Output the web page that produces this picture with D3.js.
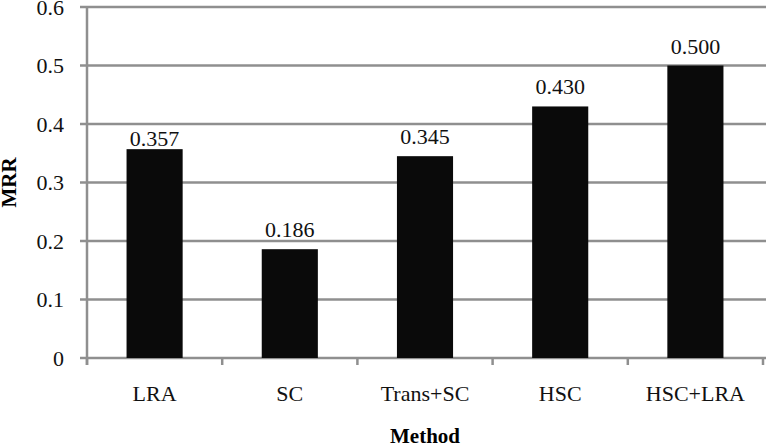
<!DOCTYPE html>
<html>
<head>
<meta charset="utf-8">
<script src="https://cdn.jsdelivr.net/npm/d3@7"></script>
<style>
body { margin: 0; background: #fff; }
</style>
</head>
<body>
<div id="main-vis"></div>
<script>
// chart data
var methods = ["LRA", "SC", "Trans+SC", "HSC", "HSC+LRA"];
var mrr = [0.357, 0.186, 0.345, 0.430, 0.500];
var yTicks = [0, 0.1, 0.2, 0.3, 0.4, 0.5, 0.6];

var font = "'Liberation Serif', 'Times New Roman', Times, serif";
var margin = { top: 7, right: 7, bottom: 88, left: 87 };
var width = 770 - margin.left - margin.right;
var height = 446 - margin.top - margin.bottom;
var grid = "#8f8f8f";

var x = d3.scaleBand().domain(methods).range([0, width]).paddingInner(0.585).paddingOuter(0.2925);
var xb = d3.scaleBand().domain(methods).range([0, width]); // category ticks
var y = d3.scaleLinear().domain([0, 0.6]).range([height, 0]);

var svg = d3.select("#main-vis").append("svg")
     .attr("width", 770)
     .attr("height", 446)
     .style("font-family", font)
     .append("g")
     .attr("transform", "translate(" + margin.left + "," + margin.top + ")");

// gridlines + left ticks
svg.selectAll(".grid")
     .data(yTicks)
     .enter().append("line")
     .attr("x1", -7)
     .attr("x2", width + 3)
     .attr("y1", function (d) { return y(d); })
     .attr("y2", function (d) { return y(d); })
     .attr("stroke", grid)
     .attr("stroke-width", 2.5);

// y tick labels
svg.selectAll(".ylab")
     .data(yTicks)
     .enter().append("text")
     .attr("x", -23)
     .attr("y", function (d) { return y(d); })
     .attr("dy", "0.35em")
     .attr("text-anchor", "end")
     .attr("font-family", font)
     .attr("font-size", 22)
     .attr("fill", "#111")
     .text(function (d) { return d; });

// y axis line
svg.append("line")
     .attr("x1", 0).attr("x2", 0)
     .attr("y1", y(0.6) - 1).attr("y2", height + 7)
     .attr("stroke", grid).attr("stroke-width", 2.5);

// x category ticks
var bounds = methods.map(function (m) { return xb(m); }).concat([width]);
svg.selectAll(".xtick")
     .data(bounds)
     .enter().append("line")
     .attr("x1", function (d) { return d; })
     .attr("x2", function (d) { return d; })
     .attr("y1", height)
     .attr("y2", height + 7)
     .attr("stroke", grid)
     .attr("stroke-width", 2.5);

// bars
svg.selectAll(".bar")
     .data(mrr)
     .enter().append("rect")
     .attr("x", function (d, i) { return x(methods[i]); })
     .attr("width", x.bandwidth())
     .attr("y", function (d) { return y(d); })
     .attr("height", function (d) { return height - y(d); })
     .attr("fill", "#0a0a0a");

// value labels, dropped closer to the bar if they would cross a gridline
svg.selectAll(".val")
     .data(mrr)
     .enter().append("text")
     .attr("x", function (d, i) { return x(methods[i]) + x.bandwidth() / 2; })
     .attr("y", function (d) {
          var base = y(d) - 12;
          var crosses = yTicks.some(function (t) { return y(t) < base && y(t) > base - 15; });
          return crosses ? y(d) - 3 : base;
     })
     .attr("text-anchor", "middle")
     .attr("font-family", font)
     .attr("font-size", 22)
     .attr("fill", "#111")
     .text(function (d) { return d.toFixed(3); });

// category labels
svg.selectAll(".cat")
     .data(methods)
     .enter().append("text")
     .attr("x", function (d) { return xb(d) + xb.bandwidth() / 2; })
     .attr("y", height + 43)
     .attr("text-anchor", "middle")
     .attr("font-family", font)
     .attr("font-size", 22)
     .attr("fill", "#111")
     .text(function (d) { return d; });

// axis titles
svg.append("text")
     .attr("x", width / 2)
     .attr("y", height + 85)
     .attr("text-anchor", "middle")
     .attr("font-family", font)
     .attr("font-size", 21)
     .attr("font-weight", "bold")
     .text("Method");

svg.append("text")
     .attr("transform", "translate(" + (16 - margin.left) + "," + (height / 2) + ") rotate(-90)")
     .attr("text-anchor", "middle")
     .attr("font-family", font)
     .attr("font-size", 21)
     .attr("font-weight", "bold")
     .text("MRR");
</script>
</body>
</html>
